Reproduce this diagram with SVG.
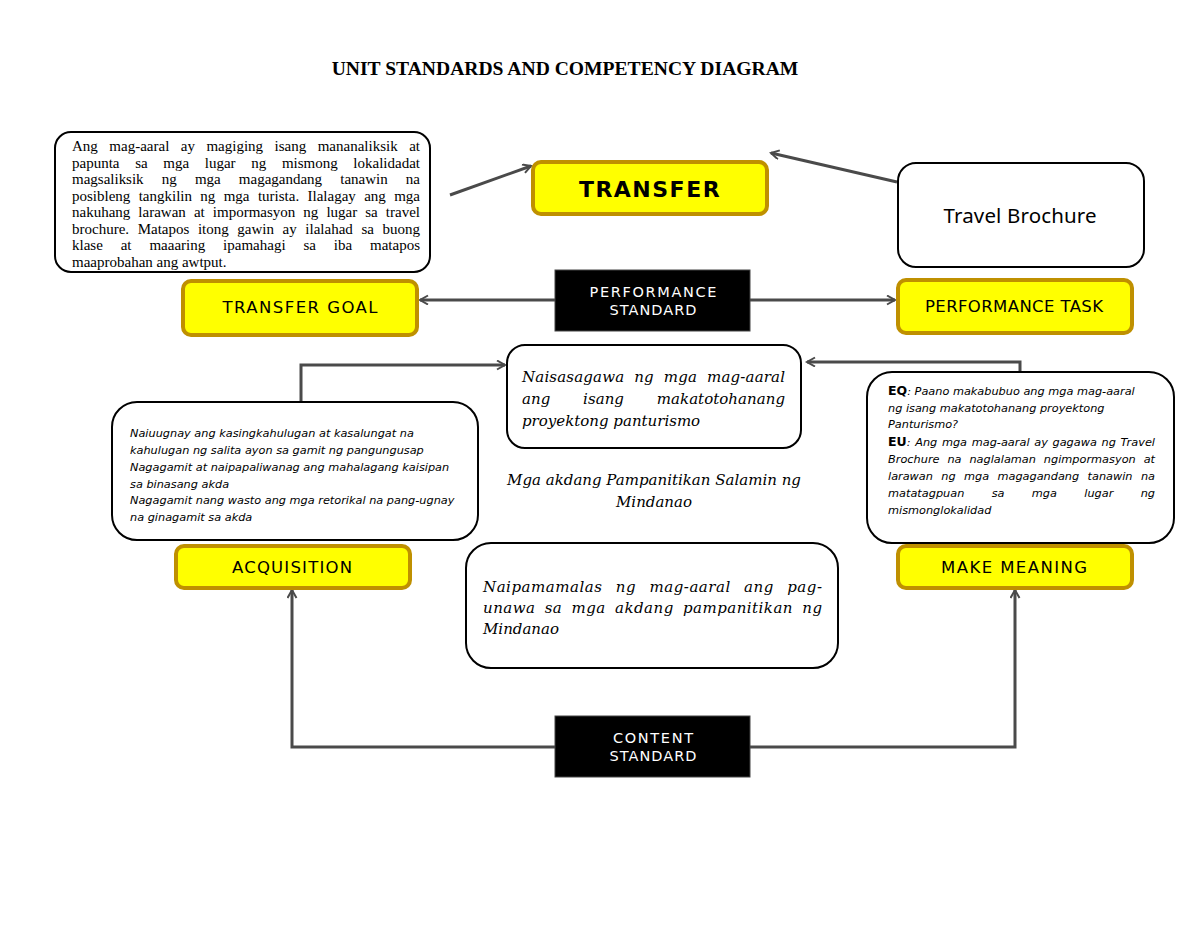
<svg xmlns="http://www.w3.org/2000/svg" width="1200" height="927" viewBox="0 0 1200 927">
<style>
.title{font-family:"Liberation Serif","DejaVu Serif",serif;font-weight:bold;font-size:19.6px;fill:#000}
.white{fill:#fff;stroke:#000;stroke-width:2}
.yellow{fill:#ffff00;stroke:#bf9000;stroke-width:4}
.black{fill:#000;stroke:#444;stroke-width:1}
.ylabel{font-family:"DejaVu Sans",sans-serif;font-size:16.5px;fill:#000;text-anchor:middle}
.blabel{font-family:"DejaVu Sans",sans-serif;font-size:14.5px;fill:#fff;text-anchor:middle}
.times{font-family:"Liberation Serif",serif;font-size:15px;fill:#000}
.serifit{font-family:"DejaVu Serif",serif;font-style:italic;font-size:15px;fill:#000}
.small{font-family:"DejaVu Sans",sans-serif;font-style:italic;font-size:11.3px;fill:#000}
.eb{font-style:normal;font-weight:bold;font-size:12.5px}
.conn{fill:none;stroke:#4a4a4a;stroke-width:3}
</style>
<defs>
<marker id="arr" markerWidth="12" markerHeight="12" refX="9" refY="5" orient="auto" markerUnits="userSpaceOnUse">
<path d="M1,0.5 L9,5 L1,9.5" fill="none" stroke="#4a4a4a" stroke-width="2"/>
</marker>
</defs>
<rect width="1200" height="927" fill="#fff"/>
<text class="title" x="565" y="75" text-anchor="middle">UNIT STANDARDS AND COMPETENCY DIAGRAM</text>

<g id="connectors">
<line class="conn" x1="450" y1="195" x2="531" y2="166" marker-end="url(#arr)"/>
<line class="conn" x1="897" y1="182" x2="771" y2="153" marker-end="url(#arr)"/>
<line class="conn" x1="555" y1="300" x2="420" y2="300" marker-end="url(#arr)"/>
<line class="conn" x1="750" y1="300" x2="895" y2="300" marker-end="url(#arr)"/>
<polyline class="conn" points="301,402 301,365 505,365" marker-end="url(#arr)"/>
<polyline class="conn" points="1020,372 1020,362 807,362" marker-end="url(#arr)"/>
<polyline class="conn" points="555,747 292,747 292,590" marker-end="url(#arr)"/>
<polyline class="conn" points="750,747 1015,747 1015,590" marker-end="url(#arr)"/>
</g>

<g id="transfer-desc">
<rect class="white" x="55" y="132" width="375" height="140" rx="16"/>
<text class="times">
<tspan x="72" y="151" word-spacing="7.7" textLength="348" lengthAdjust="spacing">Ang mag-aaral ay magiging isang mananaliksik at</tspan>
<tspan x="72" y="167.5" word-spacing="11.9" textLength="348" lengthAdjust="spacing">papunta sa mga lugar ng mismong lokalidadat</tspan>
<tspan x="72" y="184" word-spacing="14.4" textLength="348" lengthAdjust="spacing">magsaliksik ng mga magagandang tanawin na</tspan>
<tspan x="72" y="200.5" word-spacing="4.6" textLength="348" lengthAdjust="spacing">posibleng tangkilin ng mga turista. Ilalagay ang mga</tspan>
<tspan x="72" y="217" word-spacing="4.3" textLength="348" lengthAdjust="spacing">nakuhang larawan at impormasyon ng lugar sa travel</tspan>
<tspan x="72" y="233.5" word-spacing="4.8" textLength="348" lengthAdjust="spacing">brochure. Matapos itong gawin ay ilalahad sa buong</tspan>
<tspan x="72" y="250" word-spacing="14.1" textLength="348" lengthAdjust="spacing">klase at maaaring ipamahagi sa iba matapos</tspan>
<tspan x="72" y="266.5">maaprobahan ang awtput.</tspan>
</text>
</g>

<g id="transfer">
<rect class="yellow" x="533" y="162" width="234" height="52" rx="8"/>
<text x="650" y="197" text-anchor="middle" font-family="DejaVu Sans, sans-serif" font-weight="bold" font-size="22" letter-spacing="1.5">TRANSFER</text>
</g>

<g id="travel-brochure">
<rect class="white" x="898" y="163" width="246" height="104" rx="18"/>
<text x="1020" y="223" text-anchor="middle" font-family="Noto Sans, sans-serif" font-size="20.5" textLength="153" lengthAdjust="spacing">Travel Brochure</text>
</g>

<g id="transfer-goal">
<rect class="yellow" x="183" y="281" width="234" height="54" rx="8"/>
<text class="ylabel" x="300" y="313" textLength="155" lengthAdjust="spacing">TRANSFER GOAL</text>
</g>

<g id="performance-standard">
<rect class="black" x="555" y="270" width="195" height="61"/>
<text class="blabel" x="653" y="297" textLength="127" lengthAdjust="spacing">PERFORMANCE</text>
<text class="blabel" x="653" y="315" textLength="87" lengthAdjust="spacing">STANDARD</text>
</g>

<g id="performance-task">
<rect class="yellow" x="898" y="280" width="234" height="53" rx="8"/>
<text class="ylabel" x="1014" y="312" textLength="178" lengthAdjust="spacing">PERFORMANCE TASK</text>
</g>

<g id="performance-desc">
<rect class="white" x="507" y="345" width="294" height="103" rx="18"/>
<text class="serifit">
<tspan x="522" y="382" word-spacing="5" textLength="263" lengthAdjust="spacing">Naisasagawa ng mga mag-aaral</tspan>
<tspan x="522" y="404" word-spacing="28" textLength="263" lengthAdjust="spacing">ang isang makatotohanang</tspan>
<tspan x="522" y="426">proyektong panturismo</tspan>
</text>
</g>

<g id="topic">
<text class="serifit" text-anchor="middle"><tspan x="654" y="485">Mga akdang Pampanitikan Salamin ng</tspan><tspan x="654" y="507">Mindanao</tspan></text>
</g>

<g id="acquisition-desc">
<rect class="white" x="112" y="402" width="366" height="138" rx="25"/>
<text class="small">
<tspan x="130" y="437">Naiuugnay ang kasingkahulugan at kasalungat na</tspan>
<tspan x="130" y="454">kahulugan ng salita ayon sa gamit ng pangungusap</tspan>
<tspan x="130" y="471">Nagagamit at naipapaliwanag ang mahalagang kaisipan</tspan>
<tspan x="130" y="488">sa binasang akda</tspan>
<tspan x="130" y="504">Nagagamit nang wasto ang mga retorikal na pang-ugnay</tspan>
<tspan x="130" y="521">na ginagamit sa akda</tspan>
</text>
</g>

<g id="acquisition">
<rect class="yellow" x="176" y="546" width="234" height="42" rx="8"/>
<text class="ylabel" x="292" y="573" textLength="120" lengthAdjust="spacing">ACQUISITION</text>
</g>

<g id="make-meaning-desc">
<rect class="white" x="867" y="372" width="307" height="171" rx="25"/>
<text class="small">
<tspan x="888" y="395"><tspan class="eb">EQ</tspan>: Paano makabubuo ang mga mag-aaral</tspan>
<tspan x="888" y="412">ng isang makatotohanang proyektong</tspan>
<tspan x="888" y="428">Panturismo?</tspan>
<tspan x="888" y="446" word-spacing="1" textLength="267" lengthAdjust="spacing"><tspan class="eb">EU</tspan>: Ang mga mag-aaral ay gagawa ng Travel</tspan>
<tspan x="888" y="463" word-spacing="4.3" textLength="267" lengthAdjust="spacing">Brochure na naglalaman ngimpormasyon at</tspan>
<tspan x="888" y="480" word-spacing="4.8" textLength="267" lengthAdjust="spacing">larawan ng mga magagandang tanawin na</tspan>
<tspan x="888" y="497" word-spacing="23.7" textLength="267" lengthAdjust="spacing">matatagpuan sa mga lugar ng</tspan>
<tspan x="888" y="514">mismonglokalidad</tspan>
</text>
</g>

<g id="make-meaning">
<rect class="yellow" x="898" y="546" width="234" height="42" rx="8"/>
<text class="ylabel" x="1014" y="573" textLength="146" lengthAdjust="spacing">MAKE MEANING</text>
</g>

<g id="content-desc">
<rect class="white" x="466" y="543" width="372" height="125" rx="25"/>
<text class="serifit">
<tspan x="483" y="592" word-spacing="8" textLength="339" lengthAdjust="spacing">Naipamamalas ng mag-aaral ang pag-</tspan>
<tspan x="483" y="613" word-spacing="4" textLength="339" lengthAdjust="spacing">unawa sa mga akdang pampanitikan ng</tspan>
<tspan x="483" y="634">Mindanao</tspan>
</text>
</g>

<g id="content-standard">
<rect class="black" x="555" y="716" width="195" height="61"/>
<text class="blabel" x="653" y="743" textLength="80" lengthAdjust="spacing">CONTENT</text>
<text class="blabel" x="653" y="761" textLength="87" lengthAdjust="spacing">STANDARD</text>
</g>
</svg>
